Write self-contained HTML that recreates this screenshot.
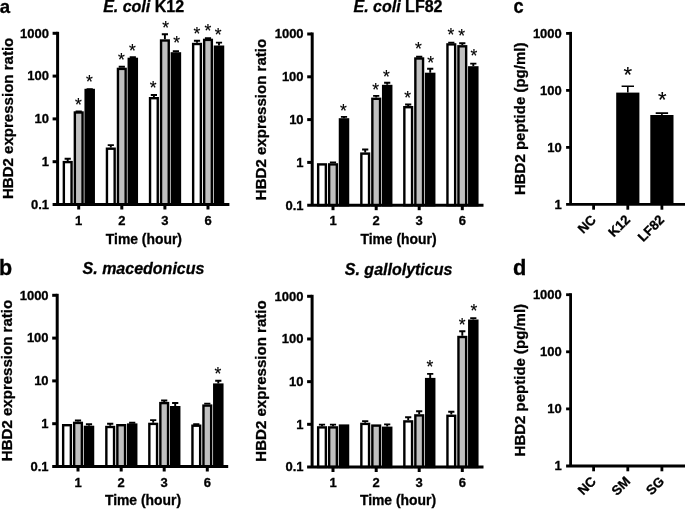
<!DOCTYPE html>
<html lang="en"><head><meta charset="utf-8"><title>HBD2 expression</title>
<style>
html,body{margin:0;padding:0;background:#fff;}
svg{display:block;}
svg text{font-family:"Liberation Sans", sans-serif;font-weight:700;fill:#000;stroke:#000;stroke-width:0.3px;}
</style></head><body>
<svg width="685" height="509" viewBox="0 0 685 509">
<rect width="685" height="509" fill="#fff"/>
<path d="M67.70 160.90V158.70M64.60 158.70H70.80" stroke="#000" stroke-width="1.9" fill="none"/>
<rect x="63.85" y="162.10" width="7.70" height="42.40" fill="#fff" stroke="#000" stroke-width="2.4"/>
<path d="M78.70 111.30V111.50M75.60 111.50H81.80" stroke="#000" stroke-width="1.9" fill="none"/>
<rect x="74.85" y="112.50" width="7.70" height="92.00" fill="#c0c0c0" stroke="#000" stroke-width="2.4"/>
<path d="M89.70 88.80V89.10M86.60 89.10H92.80" stroke="#000" stroke-width="1.9" fill="none"/>
<rect x="85.65" y="90.00" width="8.10" height="114.50" fill="#000" stroke="#000" stroke-width="2.4"/>
<path d="M110.80 147.50V145.10M107.70 145.10H113.90" stroke="#000" stroke-width="1.9" fill="none"/>
<rect x="106.95" y="148.70" width="7.70" height="55.80" fill="#fff" stroke="#000" stroke-width="2.4"/>
<path d="M121.80 67.70V66.80M118.70 66.80H124.90" stroke="#000" stroke-width="1.9" fill="none"/>
<rect x="117.95" y="68.90" width="7.70" height="135.60" fill="#c0c0c0" stroke="#000" stroke-width="2.4"/>
<path d="M132.80 57.70V57.20M129.70 57.20H135.90" stroke="#000" stroke-width="1.9" fill="none"/>
<rect x="128.75" y="58.90" width="8.10" height="145.60" fill="#000" stroke="#000" stroke-width="2.4"/>
<path d="M153.90 97.00V95.00M150.80 95.00H157.00" stroke="#000" stroke-width="1.9" fill="none"/>
<rect x="150.05" y="98.20" width="7.70" height="106.30" fill="#fff" stroke="#000" stroke-width="2.4"/>
<path d="M164.90 39.30V34.20M161.80 34.20H168.00" stroke="#000" stroke-width="1.9" fill="none"/>
<rect x="161.05" y="40.50" width="7.70" height="164.00" fill="#c0c0c0" stroke="#000" stroke-width="2.4"/>
<path d="M175.90 52.20V51.10M172.80 51.10H179.00" stroke="#000" stroke-width="1.9" fill="none"/>
<rect x="171.85" y="53.40" width="8.10" height="151.10" fill="#000" stroke="#000" stroke-width="2.4"/>
<path d="M197.00 42.80V40.80M193.90 40.80H200.10" stroke="#000" stroke-width="1.9" fill="none"/>
<rect x="193.15" y="44.00" width="7.70" height="160.50" fill="#fff" stroke="#000" stroke-width="2.4"/>
<path d="M208.00 38.70V38.10M204.90 38.10H211.10" stroke="#000" stroke-width="1.9" fill="none"/>
<rect x="204.15" y="39.90" width="7.70" height="164.60" fill="#c0c0c0" stroke="#000" stroke-width="2.4"/>
<path d="M219.00 45.50V42.60M215.90 42.60H222.10" stroke="#000" stroke-width="1.9" fill="none"/>
<rect x="214.95" y="46.70" width="8.10" height="157.80" fill="#000" stroke="#000" stroke-width="2.4"/>
<path d="M57.60 31.80V204.50" stroke="#000" stroke-width="3.0" fill="none"/>
<path d="M52.60 204.50H229.40" stroke="#000" stroke-width="3.0" fill="none"/>
<path d="M52.60 33.30H57.60" stroke="#000" stroke-width="3.0" fill="none"/>
<text x="49.00" y="37.60" font-size="13" text-anchor="end">1000</text>
<path d="M52.60 76.10H57.60" stroke="#000" stroke-width="3.0" fill="none"/>
<text x="49.00" y="80.40" font-size="13" text-anchor="end">100</text>
<path d="M52.60 118.90H57.60" stroke="#000" stroke-width="3.0" fill="none"/>
<text x="49.00" y="123.20" font-size="13" text-anchor="end">10</text>
<path d="M52.60 161.70H57.60" stroke="#000" stroke-width="3.0" fill="none"/>
<text x="49.00" y="166.00" font-size="13" text-anchor="end">1</text>
<text x="49.00" y="208.80" font-size="13" text-anchor="end">0.1</text>
<path d="M78.70 204.50V209.50" stroke="#000" stroke-width="3.0" fill="none"/>
<text x="78.70" y="224.70" font-size="13" text-anchor="middle">1</text>
<path d="M121.80 204.50V209.50" stroke="#000" stroke-width="3.0" fill="none"/>
<text x="121.80" y="224.70" font-size="13" text-anchor="middle">2</text>
<path d="M164.90 204.50V209.50" stroke="#000" stroke-width="3.0" fill="none"/>
<text x="164.90" y="224.70" font-size="13" text-anchor="middle">3</text>
<path d="M208.00 204.50V209.50" stroke="#000" stroke-width="3.0" fill="none"/>
<text x="208.00" y="224.70" font-size="13" text-anchor="middle">6</text>
<text x="78.30" y="111.07" font-size="17.5" text-anchor="middle" style="font-weight:400;stroke-width:.15px">*</text>
<text x="89.50" y="87.57" font-size="17.5" text-anchor="middle" style="font-weight:400;stroke-width:.15px">*</text>
<text x="121.30" y="66.27" font-size="17.5" text-anchor="middle" style="font-weight:400;stroke-width:.15px">*</text>
<text x="132.40" y="56.97" font-size="17.5" text-anchor="middle" style="font-weight:400;stroke-width:.15px">*</text>
<text x="153.20" y="94.37" font-size="17.5" text-anchor="middle" style="font-weight:400;stroke-width:.15px">*</text>
<text x="165.60" y="34.07" font-size="17.5" text-anchor="middle" style="font-weight:400;stroke-width:.15px">*</text>
<text x="176.60" y="48.87" font-size="17.5" text-anchor="middle" style="font-weight:400;stroke-width:.15px">*</text>
<text x="197.00" y="39.87" font-size="17.5" text-anchor="middle" style="font-weight:400;stroke-width:.15px">*</text>
<text x="208.00" y="36.67" font-size="17.5" text-anchor="middle" style="font-weight:400;stroke-width:.15px">*</text>
<text x="218.20" y="40.77" font-size="17.5" text-anchor="middle" style="font-weight:400;stroke-width:.15px">*</text>
<text x="143.60" y="12.30" font-size="16" text-anchor="middle"><tspan font-style="italic">E. coli</tspan> K12</text>
<text transform="translate(13.40 118.40) rotate(-90)" font-size="15.05" text-anchor="middle">HBD2 expression ratio</text>
<text x="143.90" y="243.50" font-size="13.9" text-anchor="middle">Time (hour)</text>
<rect x="318.15" y="164.40" width="7.70" height="40.80" fill="#fff" stroke="#000" stroke-width="2.4"/>
<path d="M333.00 163.20V162.40M329.90 162.40H336.10" stroke="#000" stroke-width="1.9" fill="none"/>
<rect x="329.15" y="164.40" width="7.70" height="40.80" fill="#c0c0c0" stroke="#000" stroke-width="2.4"/>
<path d="M344.00 118.20V116.90M340.90 116.90H347.10" stroke="#000" stroke-width="1.9" fill="none"/>
<rect x="339.95" y="119.40" width="8.10" height="85.80" fill="#000" stroke="#000" stroke-width="2.4"/>
<path d="M365.20 152.40V149.50M362.10 149.50H368.30" stroke="#000" stroke-width="1.9" fill="none"/>
<rect x="361.35" y="153.60" width="7.70" height="51.60" fill="#fff" stroke="#000" stroke-width="2.4"/>
<path d="M376.20 97.60V95.90M373.10 95.90H379.30" stroke="#000" stroke-width="1.9" fill="none"/>
<rect x="372.35" y="98.80" width="7.70" height="106.40" fill="#c0c0c0" stroke="#000" stroke-width="2.4"/>
<path d="M387.20 84.80V82.80M384.10 82.80H390.30" stroke="#000" stroke-width="1.9" fill="none"/>
<rect x="383.15" y="86.00" width="8.10" height="119.20" fill="#000" stroke="#000" stroke-width="2.4"/>
<path d="M408.20 106.00V104.50M405.10 104.50H411.30" stroke="#000" stroke-width="1.9" fill="none"/>
<rect x="404.35" y="107.20" width="7.70" height="98.00" fill="#fff" stroke="#000" stroke-width="2.4"/>
<path d="M419.20 57.30V56.80M416.10 56.80H422.30" stroke="#000" stroke-width="1.9" fill="none"/>
<rect x="415.35" y="58.50" width="7.70" height="146.70" fill="#c0c0c0" stroke="#000" stroke-width="2.4"/>
<path d="M430.20 72.70V68.70M427.10 68.70H433.30" stroke="#000" stroke-width="1.9" fill="none"/>
<rect x="426.15" y="73.90" width="8.10" height="131.30" fill="#000" stroke="#000" stroke-width="2.4"/>
<path d="M451.30 43.20V42.60M448.20 42.60H454.40" stroke="#000" stroke-width="1.9" fill="none"/>
<rect x="447.45" y="44.40" width="7.70" height="160.80" fill="#fff" stroke="#000" stroke-width="2.4"/>
<path d="M462.30 45.10V43.20M459.20 43.20H465.40" stroke="#000" stroke-width="1.9" fill="none"/>
<rect x="458.45" y="46.30" width="7.70" height="158.90" fill="#c0c0c0" stroke="#000" stroke-width="2.4"/>
<path d="M473.30 66.20V63.60M470.20 63.60H476.40" stroke="#000" stroke-width="1.9" fill="none"/>
<rect x="469.25" y="67.40" width="8.10" height="137.80" fill="#000" stroke="#000" stroke-width="2.4"/>
<path d="M312.20 32.50V205.20" stroke="#000" stroke-width="3.0" fill="none"/>
<path d="M307.20 205.20H483.50" stroke="#000" stroke-width="3.0" fill="none"/>
<path d="M307.20 34.00H312.20" stroke="#000" stroke-width="3.0" fill="none"/>
<text x="303.60" y="38.30" font-size="13" text-anchor="end">1000</text>
<path d="M307.20 76.80H312.20" stroke="#000" stroke-width="3.0" fill="none"/>
<text x="303.60" y="81.10" font-size="13" text-anchor="end">100</text>
<path d="M307.20 119.60H312.20" stroke="#000" stroke-width="3.0" fill="none"/>
<text x="303.60" y="123.90" font-size="13" text-anchor="end">10</text>
<path d="M307.20 162.40H312.20" stroke="#000" stroke-width="3.0" fill="none"/>
<text x="303.60" y="166.70" font-size="13" text-anchor="end">1</text>
<text x="303.60" y="209.50" font-size="13" text-anchor="end">0.1</text>
<path d="M333.00 205.20V210.20" stroke="#000" stroke-width="3.0" fill="none"/>
<text x="333.00" y="225.40" font-size="13" text-anchor="middle">1</text>
<path d="M376.20 205.20V210.20" stroke="#000" stroke-width="3.0" fill="none"/>
<text x="376.20" y="225.40" font-size="13" text-anchor="middle">2</text>
<path d="M419.20 205.20V210.20" stroke="#000" stroke-width="3.0" fill="none"/>
<text x="419.20" y="225.40" font-size="13" text-anchor="middle">3</text>
<path d="M462.30 205.20V210.20" stroke="#000" stroke-width="3.0" fill="none"/>
<text x="462.30" y="225.40" font-size="13" text-anchor="middle">6</text>
<text x="343.40" y="116.77" font-size="17.5" text-anchor="middle" style="font-weight:400;stroke-width:.15px">*</text>
<text x="375.60" y="95.77" font-size="17.5" text-anchor="middle" style="font-weight:400;stroke-width:.15px">*</text>
<text x="386.50" y="83.17" font-size="17.5" text-anchor="middle" style="font-weight:400;stroke-width:.15px">*</text>
<text x="407.70" y="103.87" font-size="17.5" text-anchor="middle" style="font-weight:400;stroke-width:.15px">*</text>
<text x="418.50" y="55.47" font-size="17.5" text-anchor="middle" style="font-weight:400;stroke-width:.15px">*</text>
<text x="430.70" y="69.47" font-size="17.5" text-anchor="middle" style="font-weight:400;stroke-width:.15px">*</text>
<text x="450.90" y="40.97" font-size="17.5" text-anchor="middle" style="font-weight:400;stroke-width:.15px">*</text>
<text x="461.70" y="42.37" font-size="17.5" text-anchor="middle" style="font-weight:400;stroke-width:.15px">*</text>
<text x="473.90" y="62.37" font-size="17.5" text-anchor="middle" style="font-weight:400;stroke-width:.15px">*</text>
<text x="398.00" y="12.30" font-size="16" text-anchor="middle"><tspan font-style="italic">E. coli</tspan> LF82</text>
<text transform="translate(266.40 119.50) rotate(-90)" font-size="15.05" text-anchor="middle">HBD2 expression ratio</text>
<text x="398.50" y="244.00" font-size="13.9" text-anchor="middle">Time (hour)</text>
<rect x="63.15" y="425.20" width="7.70" height="41.30" fill="#fff" stroke="#000" stroke-width="2.4"/>
<path d="M78.00 421.70V420.50M74.90 420.50H81.10" stroke="#000" stroke-width="1.9" fill="none"/>
<rect x="74.15" y="422.90" width="7.70" height="43.60" fill="#c0c0c0" stroke="#000" stroke-width="2.4"/>
<path d="M89.00 425.70V424.20M85.90 424.20H92.10" stroke="#000" stroke-width="1.9" fill="none"/>
<rect x="84.95" y="426.90" width="8.10" height="39.60" fill="#000" stroke="#000" stroke-width="2.4"/>
<path d="M110.20 425.80V423.70M107.10 423.70H113.30" stroke="#000" stroke-width="1.9" fill="none"/>
<rect x="106.35" y="427.00" width="7.70" height="39.50" fill="#fff" stroke="#000" stroke-width="2.4"/>
<rect x="117.35" y="425.20" width="7.70" height="41.30" fill="#c0c0c0" stroke="#000" stroke-width="2.4"/>
<path d="M132.20 423.40V422.70M129.10 422.70H135.30" stroke="#000" stroke-width="1.9" fill="none"/>
<rect x="128.15" y="424.60" width="8.10" height="41.90" fill="#000" stroke="#000" stroke-width="2.4"/>
<path d="M153.20 422.70V420.10M150.10 420.10H156.30" stroke="#000" stroke-width="1.9" fill="none"/>
<rect x="149.35" y="423.90" width="7.70" height="42.60" fill="#fff" stroke="#000" stroke-width="2.4"/>
<path d="M164.20 401.90V400.50M161.10 400.50H167.30" stroke="#000" stroke-width="1.9" fill="none"/>
<rect x="160.35" y="403.10" width="7.70" height="63.40" fill="#c0c0c0" stroke="#000" stroke-width="2.4"/>
<path d="M175.20 406.00V403.00M172.10 403.00H178.30" stroke="#000" stroke-width="1.9" fill="none"/>
<rect x="171.15" y="407.20" width="8.10" height="59.30" fill="#000" stroke="#000" stroke-width="2.4"/>
<path d="M196.30 424.50V424.30M193.20 424.30H199.40" stroke="#000" stroke-width="1.9" fill="none"/>
<rect x="192.45" y="425.70" width="7.70" height="40.80" fill="#fff" stroke="#000" stroke-width="2.4"/>
<path d="M207.30 404.40V403.60M204.20 403.60H210.40" stroke="#000" stroke-width="1.9" fill="none"/>
<rect x="203.45" y="405.60" width="7.70" height="60.90" fill="#c0c0c0" stroke="#000" stroke-width="2.4"/>
<path d="M218.30 383.40V380.80M215.20 380.80H221.40" stroke="#000" stroke-width="1.9" fill="none"/>
<rect x="214.25" y="384.60" width="8.10" height="81.90" fill="#000" stroke="#000" stroke-width="2.4"/>
<path d="M57.20 293.80V466.50" stroke="#000" stroke-width="3.0" fill="none"/>
<path d="M52.20 466.50H228.20" stroke="#000" stroke-width="3.0" fill="none"/>
<path d="M52.20 295.30H57.20" stroke="#000" stroke-width="3.0" fill="none"/>
<text x="48.60" y="299.60" font-size="13" text-anchor="end">1000</text>
<path d="M52.20 338.10H57.20" stroke="#000" stroke-width="3.0" fill="none"/>
<text x="48.60" y="342.40" font-size="13" text-anchor="end">100</text>
<path d="M52.20 380.90H57.20" stroke="#000" stroke-width="3.0" fill="none"/>
<text x="48.60" y="385.20" font-size="13" text-anchor="end">10</text>
<path d="M52.20 423.70H57.20" stroke="#000" stroke-width="3.0" fill="none"/>
<text x="48.60" y="428.00" font-size="13" text-anchor="end">1</text>
<text x="48.60" y="470.80" font-size="13" text-anchor="end">0.1</text>
<path d="M78.00 466.50V471.50" stroke="#000" stroke-width="3.0" fill="none"/>
<text x="78.00" y="486.70" font-size="13" text-anchor="middle">1</text>
<path d="M121.20 466.50V471.50" stroke="#000" stroke-width="3.0" fill="none"/>
<text x="121.20" y="486.70" font-size="13" text-anchor="middle">2</text>
<path d="M164.20 466.50V471.50" stroke="#000" stroke-width="3.0" fill="none"/>
<text x="164.20" y="486.70" font-size="13" text-anchor="middle">3</text>
<path d="M207.30 466.50V471.50" stroke="#000" stroke-width="3.0" fill="none"/>
<text x="207.30" y="486.70" font-size="13" text-anchor="middle">6</text>
<text x="218.00" y="379.77" font-size="17.5" text-anchor="middle" style="font-weight:400;stroke-width:.15px">*</text>
<text x="143.50" y="273.90" font-size="16" text-anchor="middle"><tspan font-style="italic">S. macedonicus</tspan></text>
<text transform="translate(11.80 380.50) rotate(-90)" font-size="15.05" text-anchor="middle">HBD2 expression ratio</text>
<text x="143.00" y="504.50" font-size="13.9" text-anchor="middle">Time (hour)</text>
<path d="M322.00 426.20V424.60M318.90 424.60H325.10" stroke="#000" stroke-width="1.9" fill="none"/>
<rect x="318.15" y="427.40" width="7.70" height="39.60" fill="#fff" stroke="#000" stroke-width="2.4"/>
<path d="M333.00 426.20V424.60M329.90 424.60H336.10" stroke="#000" stroke-width="1.9" fill="none"/>
<rect x="329.15" y="427.40" width="7.70" height="39.60" fill="#c0c0c0" stroke="#000" stroke-width="2.4"/>
<rect x="339.95" y="425.60" width="8.10" height="41.40" fill="#000" stroke="#000" stroke-width="2.4"/>
<path d="M365.20 422.70V421.10M362.10 421.10H368.30" stroke="#000" stroke-width="1.9" fill="none"/>
<rect x="361.35" y="423.90" width="7.70" height="43.10" fill="#fff" stroke="#000" stroke-width="2.4"/>
<rect x="372.35" y="425.60" width="7.70" height="41.40" fill="#c0c0c0" stroke="#000" stroke-width="2.4"/>
<path d="M387.20 426.60V424.40M384.10 424.40H390.30" stroke="#000" stroke-width="1.9" fill="none"/>
<rect x="383.15" y="427.80" width="8.10" height="39.20" fill="#000" stroke="#000" stroke-width="2.4"/>
<path d="M408.20 420.20V417.20M405.10 417.20H411.30" stroke="#000" stroke-width="1.9" fill="none"/>
<rect x="404.35" y="421.40" width="7.70" height="45.60" fill="#fff" stroke="#000" stroke-width="2.4"/>
<path d="M419.20 414.20V411.30M416.10 411.30H422.30" stroke="#000" stroke-width="1.9" fill="none"/>
<rect x="415.35" y="415.40" width="7.70" height="51.60" fill="#c0c0c0" stroke="#000" stroke-width="2.4"/>
<path d="M430.20 377.90V373.90M427.10 373.90H433.30" stroke="#000" stroke-width="1.9" fill="none"/>
<rect x="426.15" y="379.10" width="8.10" height="87.90" fill="#000" stroke="#000" stroke-width="2.4"/>
<path d="M451.30 414.60V411.70M448.20 411.70H454.40" stroke="#000" stroke-width="1.9" fill="none"/>
<rect x="447.45" y="415.80" width="7.70" height="51.20" fill="#fff" stroke="#000" stroke-width="2.4"/>
<path d="M462.30 335.80V331.30M459.20 331.30H465.40" stroke="#000" stroke-width="1.9" fill="none"/>
<rect x="458.45" y="337.00" width="7.70" height="130.00" fill="#c0c0c0" stroke="#000" stroke-width="2.4"/>
<path d="M473.30 319.50V318.10M470.20 318.10H476.40" stroke="#000" stroke-width="1.9" fill="none"/>
<rect x="469.25" y="320.70" width="8.10" height="146.30" fill="#000" stroke="#000" stroke-width="2.4"/>
<path d="M312.10 294.80V467.00" stroke="#000" stroke-width="3.0" fill="none"/>
<path d="M307.10 467.00H483.50" stroke="#000" stroke-width="3.0" fill="none"/>
<path d="M307.10 296.30H312.10" stroke="#000" stroke-width="3.0" fill="none"/>
<text x="303.50" y="300.60" font-size="13" text-anchor="end">1000</text>
<path d="M307.10 338.98H312.10" stroke="#000" stroke-width="3.0" fill="none"/>
<text x="303.50" y="343.28" font-size="13" text-anchor="end">100</text>
<path d="M307.10 381.65H312.10" stroke="#000" stroke-width="3.0" fill="none"/>
<text x="303.50" y="385.95" font-size="13" text-anchor="end">10</text>
<path d="M307.10 424.32H312.10" stroke="#000" stroke-width="3.0" fill="none"/>
<text x="303.50" y="428.62" font-size="13" text-anchor="end">1</text>
<text x="303.50" y="471.30" font-size="13" text-anchor="end">0.1</text>
<path d="M333.00 467.00V472.00" stroke="#000" stroke-width="3.0" fill="none"/>
<text x="333.00" y="487.20" font-size="13" text-anchor="middle">1</text>
<path d="M376.20 467.00V472.00" stroke="#000" stroke-width="3.0" fill="none"/>
<text x="376.20" y="487.20" font-size="13" text-anchor="middle">2</text>
<path d="M419.20 467.00V472.00" stroke="#000" stroke-width="3.0" fill="none"/>
<text x="419.20" y="487.20" font-size="13" text-anchor="middle">3</text>
<path d="M462.30 467.00V472.00" stroke="#000" stroke-width="3.0" fill="none"/>
<text x="462.30" y="487.20" font-size="13" text-anchor="middle">6</text>
<text x="473.90" y="317.27" font-size="17.5" text-anchor="middle" style="font-weight:400;stroke-width:.15px">*</text>
<text x="462.10" y="331.27" font-size="17.5" text-anchor="middle" style="font-weight:400;stroke-width:.15px">*</text>
<text x="429.90" y="373.47" font-size="17.5" text-anchor="middle" style="font-weight:400;stroke-width:.15px">*</text>
<text x="398.60" y="274.50" font-size="16" text-anchor="middle"><tspan font-style="italic">S. gallolyticus</tspan></text>
<text transform="translate(266.40 381.00) rotate(-90)" font-size="15.05" text-anchor="middle">HBD2 expression ratio</text>
<text x="398.00" y="505.10" font-size="13.9" text-anchor="middle">Time (hour)</text>
<path d="M627.80 92.60V86.20M621.60 86.20H634.00" stroke="#000" stroke-width="1.6" fill="none"/>
<rect x="616.20" y="92.60" width="23.2" height="111.80" fill="#000"/>
<path d="M661.90 115.00V113.10M655.70 113.10H668.10" stroke="#000" stroke-width="1.6" fill="none"/>
<rect x="650.30" y="115.00" width="23.2" height="89.40" fill="#000"/>
<path d="M570.60 31.90V204.40" stroke="#000" stroke-width="2.8" fill="none"/>
<path d="M566.10 204.40H685.00" stroke="#000" stroke-width="2.8" fill="none"/>
<path d="M566.10 33.40H570.60" stroke="#000" stroke-width="2.8" fill="none"/>
<text x="561.80" y="37.70" font-size="13" text-anchor="end">1000</text>
<path d="M566.10 90.40H570.60" stroke="#000" stroke-width="2.8" fill="none"/>
<text x="561.80" y="94.70" font-size="13" text-anchor="end">100</text>
<path d="M566.10 147.40H570.60" stroke="#000" stroke-width="2.8" fill="none"/>
<text x="561.80" y="151.70" font-size="13" text-anchor="end">10</text>
<text x="561.80" y="208.70" font-size="13" text-anchor="end">1</text>
<path d="M593.60 204.40V209.70" stroke="#000" stroke-width="2.8" fill="none"/>
<text transform="translate(596.80 220.60) rotate(-45)" font-size="13.3" text-anchor="end">NC</text>
<path d="M627.80 204.40V209.70" stroke="#000" stroke-width="2.8" fill="none"/>
<text transform="translate(631.00 220.60) rotate(-45)" font-size="13.3" text-anchor="end">K12</text>
<path d="M661.90 204.40V209.70" stroke="#000" stroke-width="2.8" fill="none"/>
<text transform="translate(665.10 220.60) rotate(-45)" font-size="13.3" text-anchor="end">LF82</text>
<text x="627.70" y="81.78" font-size="22" text-anchor="middle" style="font-weight:400;stroke-width:.15px">*</text>
<text x="662.20" y="107.28" font-size="22" text-anchor="middle" style="font-weight:400;stroke-width:.15px">*</text>
<text transform="translate(525.00 118.80) rotate(-90)" font-size="15" text-anchor="middle">HBD2 peptide (pg/ml)</text>
<path d="M570.60 293.20V466.00" stroke="#000" stroke-width="2.8" fill="none"/>
<path d="M566.10 466.00H685.00" stroke="#000" stroke-width="2.8" fill="none"/>
<path d="M566.10 294.70H570.60" stroke="#000" stroke-width="2.8" fill="none"/>
<text x="561.80" y="299.00" font-size="13" text-anchor="end">1000</text>
<path d="M566.10 351.80H570.60" stroke="#000" stroke-width="2.8" fill="none"/>
<text x="561.80" y="356.10" font-size="13" text-anchor="end">100</text>
<path d="M566.10 408.90H570.60" stroke="#000" stroke-width="2.8" fill="none"/>
<text x="561.80" y="413.20" font-size="13" text-anchor="end">10</text>
<text x="561.80" y="470.30" font-size="13" text-anchor="end">1</text>
<path d="M593.60 466.00V471.30" stroke="#000" stroke-width="2.8" fill="none"/>
<text transform="translate(596.80 482.20) rotate(-45)" font-size="13.3" text-anchor="end">NC</text>
<path d="M627.80 466.00V471.30" stroke="#000" stroke-width="2.8" fill="none"/>
<text transform="translate(631.00 482.20) rotate(-45)" font-size="13.3" text-anchor="end">SM</text>
<path d="M661.90 466.00V471.30" stroke="#000" stroke-width="2.8" fill="none"/>
<text transform="translate(665.10 482.20) rotate(-45)" font-size="13.3" text-anchor="end">SG</text>
<text transform="translate(525.00 380.20) rotate(-90)" font-size="15" text-anchor="middle">HBD2 peptide (pg/ml)</text>
<text x="-0.3" y="12.5" font-size="18.6">a</text>
<text x="-1.0" y="274.9" font-size="21.5">b</text>
<text transform="translate(513.4 12.6) scale(0.93 1.02)" font-size="19.6">c</text>
<text x="513.0" y="275.1" font-size="21.8">d</text>
</svg>
</body></html>
